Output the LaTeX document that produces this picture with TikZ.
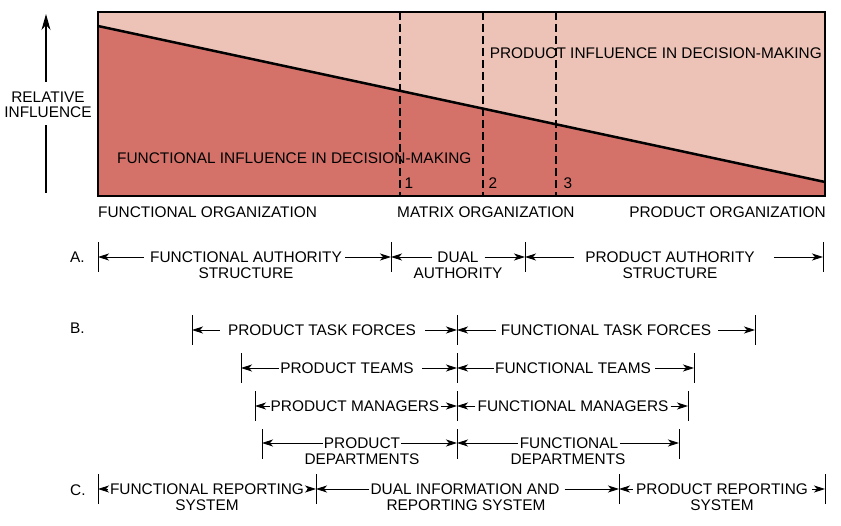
\documentclass[tikz,border=0pt]{standalone}
\usepackage{fontspec}
\setmainfont{Liberation Sans}
\usetikzlibrary{arrows.meta}
\definecolor{darkinf}{RGB}{212,114,106}
\definecolor{lightinf}{RGB}{237,194,183}
\begin{document}
\begin{tikzpicture}[x=1pt,y=-1pt,
  lbl/.style={inner sep=0pt,text height=11pt,text depth=0pt,font=\fontsize{15.4}{16}\selectfont},
  tick/.style={line width=1pt},
  arr/.style={line width=0.9pt,-{Stealth[length=11pt,width=7pt,inset=3pt]}},
  axarr/.style={line width=1.1pt,-{Stealth[length=16pt,width=9pt,inset=5pt]}},
  divider/.style={line width=2.6pt,dash pattern=on 8pt off 4pt},
  frame/.style={line width=2.6pt}]
\useasboundingbox (0,0) rectangle (841,526);
\newcommand{\tk}[3]{\coordinate (#1) at (#2,#3); \draw[tick] ([yshift=-15pt]#1) -- ([yshift=15pt]#1);}
% --- chart ---
\coordinate (bl) at (98,196);
\coordinate (tr) at (825,12);
\coordinate (ls) at (98,26);
\coordinate (le) at (825,182);
\fill[lightinf] (98,12) rectangle (825,196);
\fill[darkinf] (ls) -- (le) -- (825,196) -- (bl) -- cycle;
\draw[line width=2.5pt] (ls) -- (le);
\foreach \n/\x in {d1/400,d2/483,d3/556}{
  \coordinate (\n t) at (\x,12);
  \coordinate (\n b) at (\x,196);
  \draw[divider] (\n t) -- (\n b);
}
\draw[frame] (98,12) rectangle (825,196);
\node[lbl] (n1) at (409,183) {1};
\node[lbl] (n2) at (493,183) {2};
\node[lbl] (n3) at (568,183) {3};
\node[lbl,anchor=west] (finf) at (117,158) {FUNCTIONAL INFLUENCE IN DECISION-MAKING};
\node[lbl,anchor=east] (pinf) at (822,53) {PRODUCT INFLUENCE IN DECISION-MAKING};
% axis
\coordinate (axbot) at (46,193);
\coordinate (axtop) at (46,14);
\node[inner sep=0pt,align=center,font=\fontsize{15.4}{15}\selectfont] (relinf) at (48,105) {RELATIVE\\INFLUENCE};
\draw[line width=1.1pt] (axbot) -- ([yshift=-7pt]relinf.south -| axbot);
\draw[axarr] ([yshift=10pt]relinf.north -| axbot) -- (axtop);
% organization labels
\node[lbl,anchor=west] (forg) at (98,212) {FUNCTIONAL ORGANIZATION};
\node[lbl,anchor=west] (morg) at (397,212) {MATRIX ORGANIZATION};
\node[lbl,anchor=east] (porg) at (826,212) {PRODUCT ORGANIZATION};
% --- A ---
\node[lbl,anchor=west] (la) at (70,257) {A.};
\tk{tA0}{98}{257}\tk{tA1}{391}{257}\tk{tA2}{525}{257}\tk{tA3}{823}{257}
\node[lbl] (fa1) at (246,257) {FUNCTIONAL AUTHORITY};
\node[lbl] (fa2) at (246,273) {STRUCTURE};
\draw[arr,shorten <=6pt] (fa1.west) -- (fa1.west -| tA0);
\draw[arr,shorten <=3pt] (fa1.east) -- (fa1.east -| tA1);
\node[lbl] (da1) at (458,257) {DUAL};
\node[lbl] (da2) at (458,273) {AUTHORITY};
\draw[arr,shorten <=5pt] (da1.west) -- (da1.west -| tA1);
\draw[arr,shorten <=6pt] (da1.east) -- (da1.east -| tA2);
\node[lbl] (pa1) at (670,257) {PRODUCT AUTHORITY};
\node[lbl] (pa2) at (670,273) {STRUCTURE};
\draw[arr,shorten <=11pt] (pa1.west) -- (pa1.west -| tA2);
\draw[arr,shorten <=19pt] (pa1.east) -- (pa1.east -| tA3);
% --- B ---
\node[lbl,anchor=west] (lb) at (70,328) {B.};
\tk{tB0}{192}{330}\tk{tB1}{457}{330}\tk{tB2}{755}{330}
\node[lbl] (ptf) at (322,330) {PRODUCT TASK FORCES};
\draw[arr,shorten <=8pt] (ptf.west) -- (ptf.west -| tB0);
\draw[arr,shorten <=9pt] (ptf.east) -- (ptf.east -| tB1);
\node[lbl] (ftf) at (606,330) {FUNCTIONAL TASK FORCES};
\draw[arr,shorten <=5pt] (ftf.west) -- (ftf.west -| tB1);
\draw[arr,shorten <=7pt] (ftf.east) -- (ftf.east -| tB2);
\tk{tC0}{241}{368}\tk{tC1}{457}{368}\tk{tC2}{694}{368}
\node[lbl] (pt) at (347,368) {PRODUCT TEAMS};
\draw[arr,shorten <=1pt] (pt.west) -- (pt.west -| tC0);
\draw[arr,shorten <=8pt] (pt.east) -- (pt.east -| tC1);
\node[lbl] (ft) at (573,368) {FUNCTIONAL TEAMS};
\draw[arr,shorten <=1pt] (ft.west) -- (ft.west -| tC1);
\draw[arr,shorten <=4pt] (ft.east) -- (ft.east -| tC2);
\tk{tD0}{255}{406}\tk{tD1}{457}{406}\tk{tD2}{688}{406}
\node[lbl] (pm) at (355,406) {PRODUCT MANAGERS};
\draw[arr,shorten <=1pt] (pm.west) -- (pm.west -| tD0);
\draw[arr,shorten <=2pt] (pm.east) -- (pm.east -| tD1);
\node[lbl] (fm) at (573,406) {FUNCTIONAL MANAGERS};
\draw[arr,shorten <=2pt] (fm.west) -- (fm.west -| tD1);
\draw[arr,shorten <=2pt] (fm.east) -- (fm.east -| tD2);
\tk{tE0}{262}{444}\tk{tE1}{457}{444}\tk{tE2}{679}{444}
\node[lbl] (pd1) at (362,443) {PRODUCT};
\node[lbl] (pd2) at (362,459) {DEPARTMENTS};
\draw[arr,shorten <=1pt] (pd1.west) -- (pd1.west -| tE0);
\draw[arr,shorten <=1pt] (pd1.east) -- (pd1.east -| tE1);
\node[lbl] (fd1) at (569,443) {FUNCTIONAL};
\node[lbl] (fd2) at (568,459) {DEPARTMENTS};
\draw[arr,shorten <=2pt] (fd1.west) -- (fd1.west -| tE1);
\draw[arr,shorten <=2pt] (fd1.east) -- (fd1.east -| tE2);
% --- C ---
\node[lbl,anchor=west] (lc) at (70,490) {C.};
\tk{tF0}{98}{489}\tk{tF1}{316}{489}\tk{tF2}{619}{489}\tk{tF3}{825}{489}
\node[lbl] (fr1) at (207,489) {FUNCTIONAL REPORTING};
\node[lbl] (fr2) at (207,505) {SYSTEM};
\draw[arr,shorten <=2pt] (fr1.west) -- (fr1.west -| tF0);
\draw[arr,shorten <=3pt] (fr1.east) -- (fr1.east -| tF1);
\node[lbl] (dr1) at (465,489) {DUAL INFORMATION AND};
\node[lbl] (dr2) at (466,505) {REPORTING SYSTEM};
\draw[arr,shorten <=1pt] (dr1.west) -- (dr1.west -| tF1);
\draw[arr,shorten <=5pt] (dr1.east) -- (dr1.east -| tF2);
\node[lbl] (pr1) at (722,489) {PRODUCT REPORTING};
\node[lbl] (pr2) at (722,505) {SYSTEM};
\draw[arr,shorten <=3pt] (pr1.west) -- (pr1.west -| tF2);
\draw[arr,shorten <=4pt] (pr1.east) -- (pr1.east -| tF3);
\end{tikzpicture}
\end{document}
